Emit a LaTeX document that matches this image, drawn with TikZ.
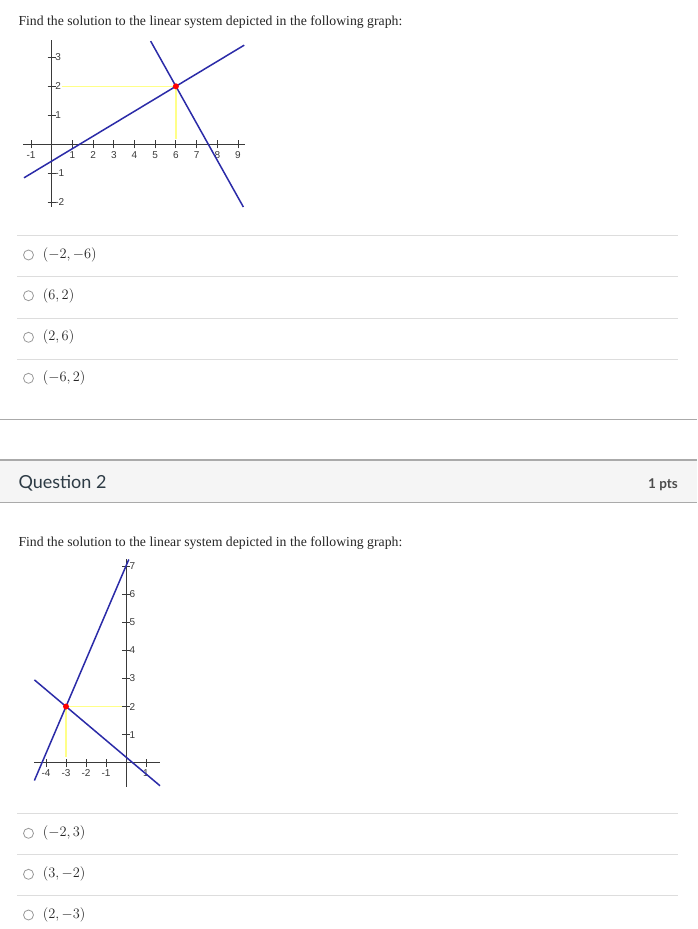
\documentclass[tikz,border=0pt]{standalone}
\usepackage{fontspec}
\setmainfont{Liberation Serif}
\newfontfamily\latof{Lato}
\newfontfamily\axisf{Liberation Sans}
\definecolor{qtext}{HTML}{2D3B45}
\definecolor{sepgray}{HTML}{DDDDDD}
\definecolor{darksep}{HTML}{AAAAAA}
\definecolor{hdrfill}{HTML}{F5F5F5}
\definecolor{lineblue}{HTML}{2B2BA8}
\definecolor{guideyellow}{HTML}{FFFF88}
\definecolor{axisgray}{HTML}{3A3A3A}
\definecolor{radiogray}{HTML}{999999}
\tikzset{
  prompt/.style={anchor=west, inner sep=0, font=\fontsize{13.75}{16}\selectfont, text=black!85},
  option/.style={anchor=west, inner sep=0, font=\fontsize{13.5}{16}\selectfont, text=black!85},
  radio/.style={circle, draw=radiogray, line width=0.8pt, minimum size=10pt, inner sep=0},
  sepline/.style={draw=sepgray, line width=1pt},
  axisline/.style={draw=axisgray, line width=0.9pt},
  ticklabel/.style={inner sep=0, font=\axisf\fontsize{10}{11}\selectfont, text=axisgray},
  graphline/.style={draw=lineblue, line width=1.5pt},
  guide/.style={draw=guideyellow, line width=1.6pt},
  reddot/.style={fill=red, circle, inner sep=0, minimum size=6pt},
}
\begin{document}
\begin{tikzpicture}[x=1pt, y=1pt]
\path[use as bounding box, fill=white] (0,0) rectangle (697,-929);

% ---------- Question 1 ----------
\node[prompt] (p1) at (18.3,-22) {Find the solution to the linear system depicted in the following graph:};

\begin{scope}[shift={(51.7pt,-144.3pt)}, x=20.7pt, y=29pt]
  \draw[guide] (0.48,2) -- (6,2);
  \draw[guide] (6,2) -- (6,0.2);
  \coordinate (g1xl) at (-1.37,0); \coordinate (g1xr) at (9.35,0);
  \coordinate (g1yt) at (0,3.6);   \coordinate (g1yb) at (0,-2.15);
  \draw[axisline] (g1xl) -- (g1xr);
  \draw[axisline] (g1yb) -- (g1yt);
  \foreach \i in {-1,1,2,3,4,5,6,7,8,9} {
    \draw[axisline] ([yshift=-4pt]\i,0) -- ([yshift=4pt]\i,0);
    \node[ticklabel, anchor=north] (g1lx\i) at ([yshift=-7pt]\i,0) {\i};
  }
  \foreach \j in {-2,-1,1,2,3} {
    \draw[axisline] ([xshift=-4pt]0,\j) -- ([xshift=4pt]0,\j);
    \node[ticklabel, anchor=west] (g1ly\j) at ([xshift=3.5pt]0,\j) {\j};
  }
  \coordinate (g1a1) at (-1.34,-1.156);
  \coordinate (g1a2) at (9.3,3.419);
  \coordinate (g1b1) at (4.78,3.558);
  \coordinate (g1b2) at (9.26,-2.163);
  \draw[graphline] (g1a1) -- (g1a2);
  \draw[graphline] (g1b1) -- (g1b2);
  \node[reddot] (g1p) at (6,2) {};
\end{scope}

\draw[sepline] (17.3,-235) -- (678,-235);
\node[radio] (r1a) at (28.5,-255) {};
\node[option] (o1a) at (42.7,-255) {$(-2,-6)$};
\draw[sepline] (17.3,-276.5) -- (678,-276.5);
\node[radio] (r1b) at (28.5,-295.7) {};
\node[option] (o1b) at (42.7,-295.7) {$(6,2)$};
\draw[sepline] (17.3,-318.3) -- (678,-318.3);
\node[radio] (r1c) at (28.5,-337.3) {};
\node[option] (o1c) at (42.7,-337.3) {$(2,6)$};
\draw[sepline] (17.3,-359.3) -- (678,-359.3);
\node[radio] (r1d) at (28.5,-378.3) {};
\node[option] (o1d) at (42.7,-378.3) {$(-6,2)$};

\draw[draw=darksep, line width=1.2pt] (0,-419.3) -- (697,-419.3);

% ---------- Question 2 header ----------
\fill[hdrfill] (0,-460) rectangle (697,-502.7);
\draw[draw=darksep, line width=1.2pt] (0,-460) -- (697,-460);
\draw[draw=darksep, line width=1.2pt] (0,-502.7) -- (697,-502.7);
\node[anchor=base west, inner sep=0, font=\latof\fontsize{18}{22}\selectfont, text=qtext] (q2) at (18.3,-488) {Question 2};
\node[anchor=base east, inner sep=0, font=\latof\bfseries\fontsize{13.5}{16}\selectfont, text=black!70] (pts) at (678,-488) {1 pts};

% ---------- Question 2 ----------
\node[prompt] (p2) at (18.3,-543) {Find the solution to the linear system depicted in the following graph:};

\begin{scope}[shift={(126pt,-762.7pt)}, x=20pt, y=28.1pt]
  \draw[guide] (-3,2) -- (-0.2,2);
  \draw[guide] (-3,2) -- (-3,0.2);
  \coordinate (g2xl) at (-4.58,0); \coordinate (g2xr) at (1.7,0);
  \coordinate (g2yt) at (0,7.24);  \coordinate (g2yb) at (0,-0.85);
  \draw[axisline] (g2xl) -- (g2xr);
  \draw[axisline] (g2yb) -- (g2yt);
  \foreach \i in {-4,-3,-2,-1,1} {
    \draw[axisline] ([yshift=-4pt]\i,0) -- ([yshift=4pt]\i,0);
    \node[ticklabel, anchor=north] (g2lx\i) at ([yshift=-7pt]\i,0) {\i};
  }
  \foreach \j in {1,...,7} {
    \draw[axisline] ([xshift=-4pt]0,\j) -- ([xshift=4pt]0,\j);
    \node[ticklabel, anchor=west] (g2ly\j) at ([xshift=3.5pt]0,\j) {\j};
  }
  \coordinate (g2a1) at (-4.58,-0.633);
  \coordinate (g2a2) at (0.14,7.233);
  \coordinate (g2b1) at (-4.58,2.948);
  \coordinate (g2b2) at (1.7,-0.82);
  \draw[graphline] (g2a1) -- (g2a2);
  \draw[graphline] (g2b1) -- (g2b2);
  \node[reddot] (g2p) at (-3,2) {};
\end{scope}

\draw[sepline] (17.3,-813.3) -- (678,-813.3);
\node[radio] (r2a) at (28.5,-833.3) {};
\node[option] (o2a) at (42.7,-833.3) {$(-2,3)$};
\draw[sepline] (17.3,-854.3) -- (678,-854.3);
\node[radio] (r2b) at (28.5,-874.3) {};
\node[option] (o2b) at (42.7,-874.3) {$(3,-2)$};
\draw[sepline] (17.3,-895.7) -- (678,-895.7);
\node[radio] (r2c) at (28.5,-915) {};
\node[option] (o2c) at (42.7,-915) {$(2,-3)$};
\end{tikzpicture}
\end{document}
